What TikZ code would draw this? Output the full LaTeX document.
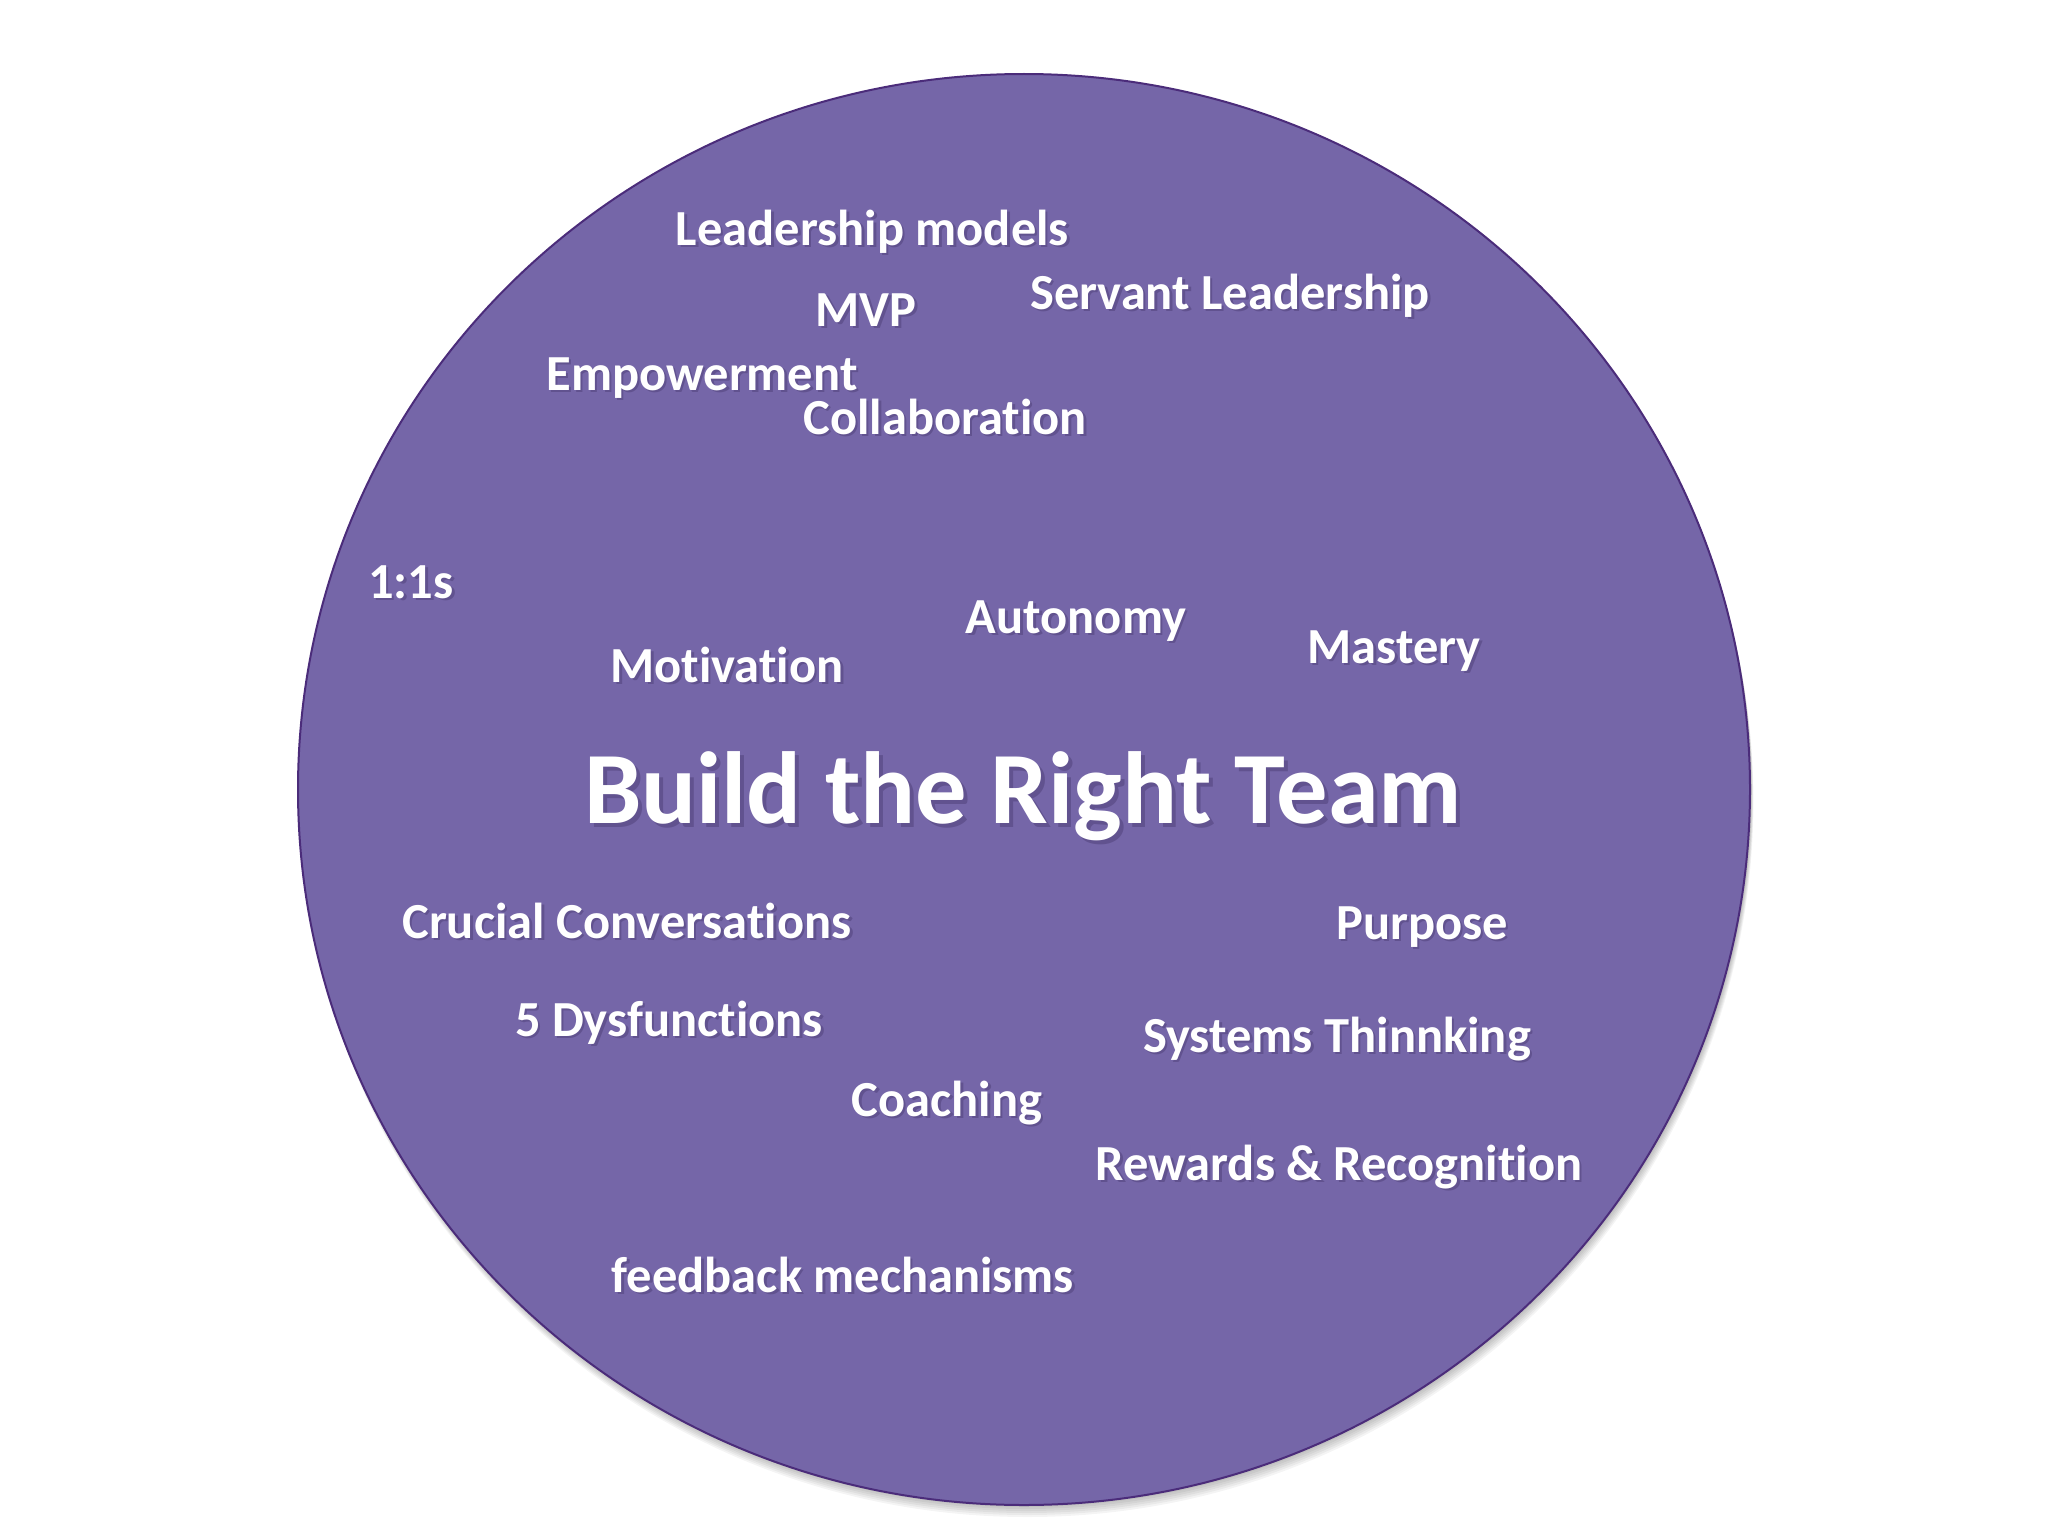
\documentclass[tikz,border=0pt]{standalone}
\usepackage{fontspec}
\setmainfont{Carlito}[Ligatures={NoCommon},RawFeature={-liga;-clig}]
\definecolor{circfill}{HTML}{7566A8}
\definecolor{circline}{HTML}{4B2C7A}
\definecolor{txtshadow}{HTML}{2E2050}
\newcommand\nl{\kern0pt }
\newcommand\tagword[4]{%
  \node[word,text=txtshadow,opacity=0.28] at (#2+2.5,#3+2.5) {#4};
  \node[word] (#1) at (#2,#3) {#4};}
\begin{document}
\begin{tikzpicture}[x=1pt,y=-1pt,
  word/.style={text=white,font=\bfseries\fontsize{50.5}{60}\selectfont,anchor=base,inner sep=0pt},
  bigword/.style={text=white,font=\bfseries\fontsize{102.5}{120}\selectfont,anchor=base,inner sep=0pt}]
\useasboundingbox (0,0) rectangle (2048,1536);
\fill[white] (0,0) rectangle (2048,1536);
% soft drop shadow of the disc
\foreach \d in {2,4,6,8,10,12}{
  \fill[black,opacity=0.045] (1025+\d*0.2,789.5+\d) ellipse [x radius=726pt, y radius=715.5pt];
}
\draw[circline,line width=2pt,fill=circfill] (1024,789.5) ellipse [x radius=726pt, y radius=715.5pt];
\coordinate (disc) at (1024,789.5);
% words
\tagword{lead}{872.5}{245}{Leadership models}
\tagword{mvp}{866}{326}{MVP}
\tagword{servant}{1230}{309}{Servant Leadership}
\tagword{empow}{702}{390}{Empowerment}
\tagword{collab}{945}{434}{Collaborat\nl ion}
\tagword{ones}{411}{598}{1:1s}
\tagword{auto}{1076}{633}{Autonomy}
\tagword{mastery}{1394}{663}{Mastery}
\tagword{motiv}{727}{682}{Motivat\nl ion}
\node[bigword,text=txtshadow,opacity=0.28] at (1023+4,823+4) {Build the Right Team};
\node[bigword] (title) at (1023,823) {Build the Right Team};
\tagword{crucial}{627}{938}{Crucial Conversat\nl ions}
\tagword{purpose}{1422}{939}{Purpose}
\tagword{dysf}{669}{1036}{5 Dysfunct\nl ions}
\tagword{systems}{1337}{1052}{Systems Thinnking}
\tagword{coach}{947}{1116}{Coaching}
\tagword{rewards}{1339}{1180}{Rewards \& Recognit\nl ion}
\tagword{feedback}{843}{1292}{feedback mechanisms}
\end{tikzpicture}
\end{document}
